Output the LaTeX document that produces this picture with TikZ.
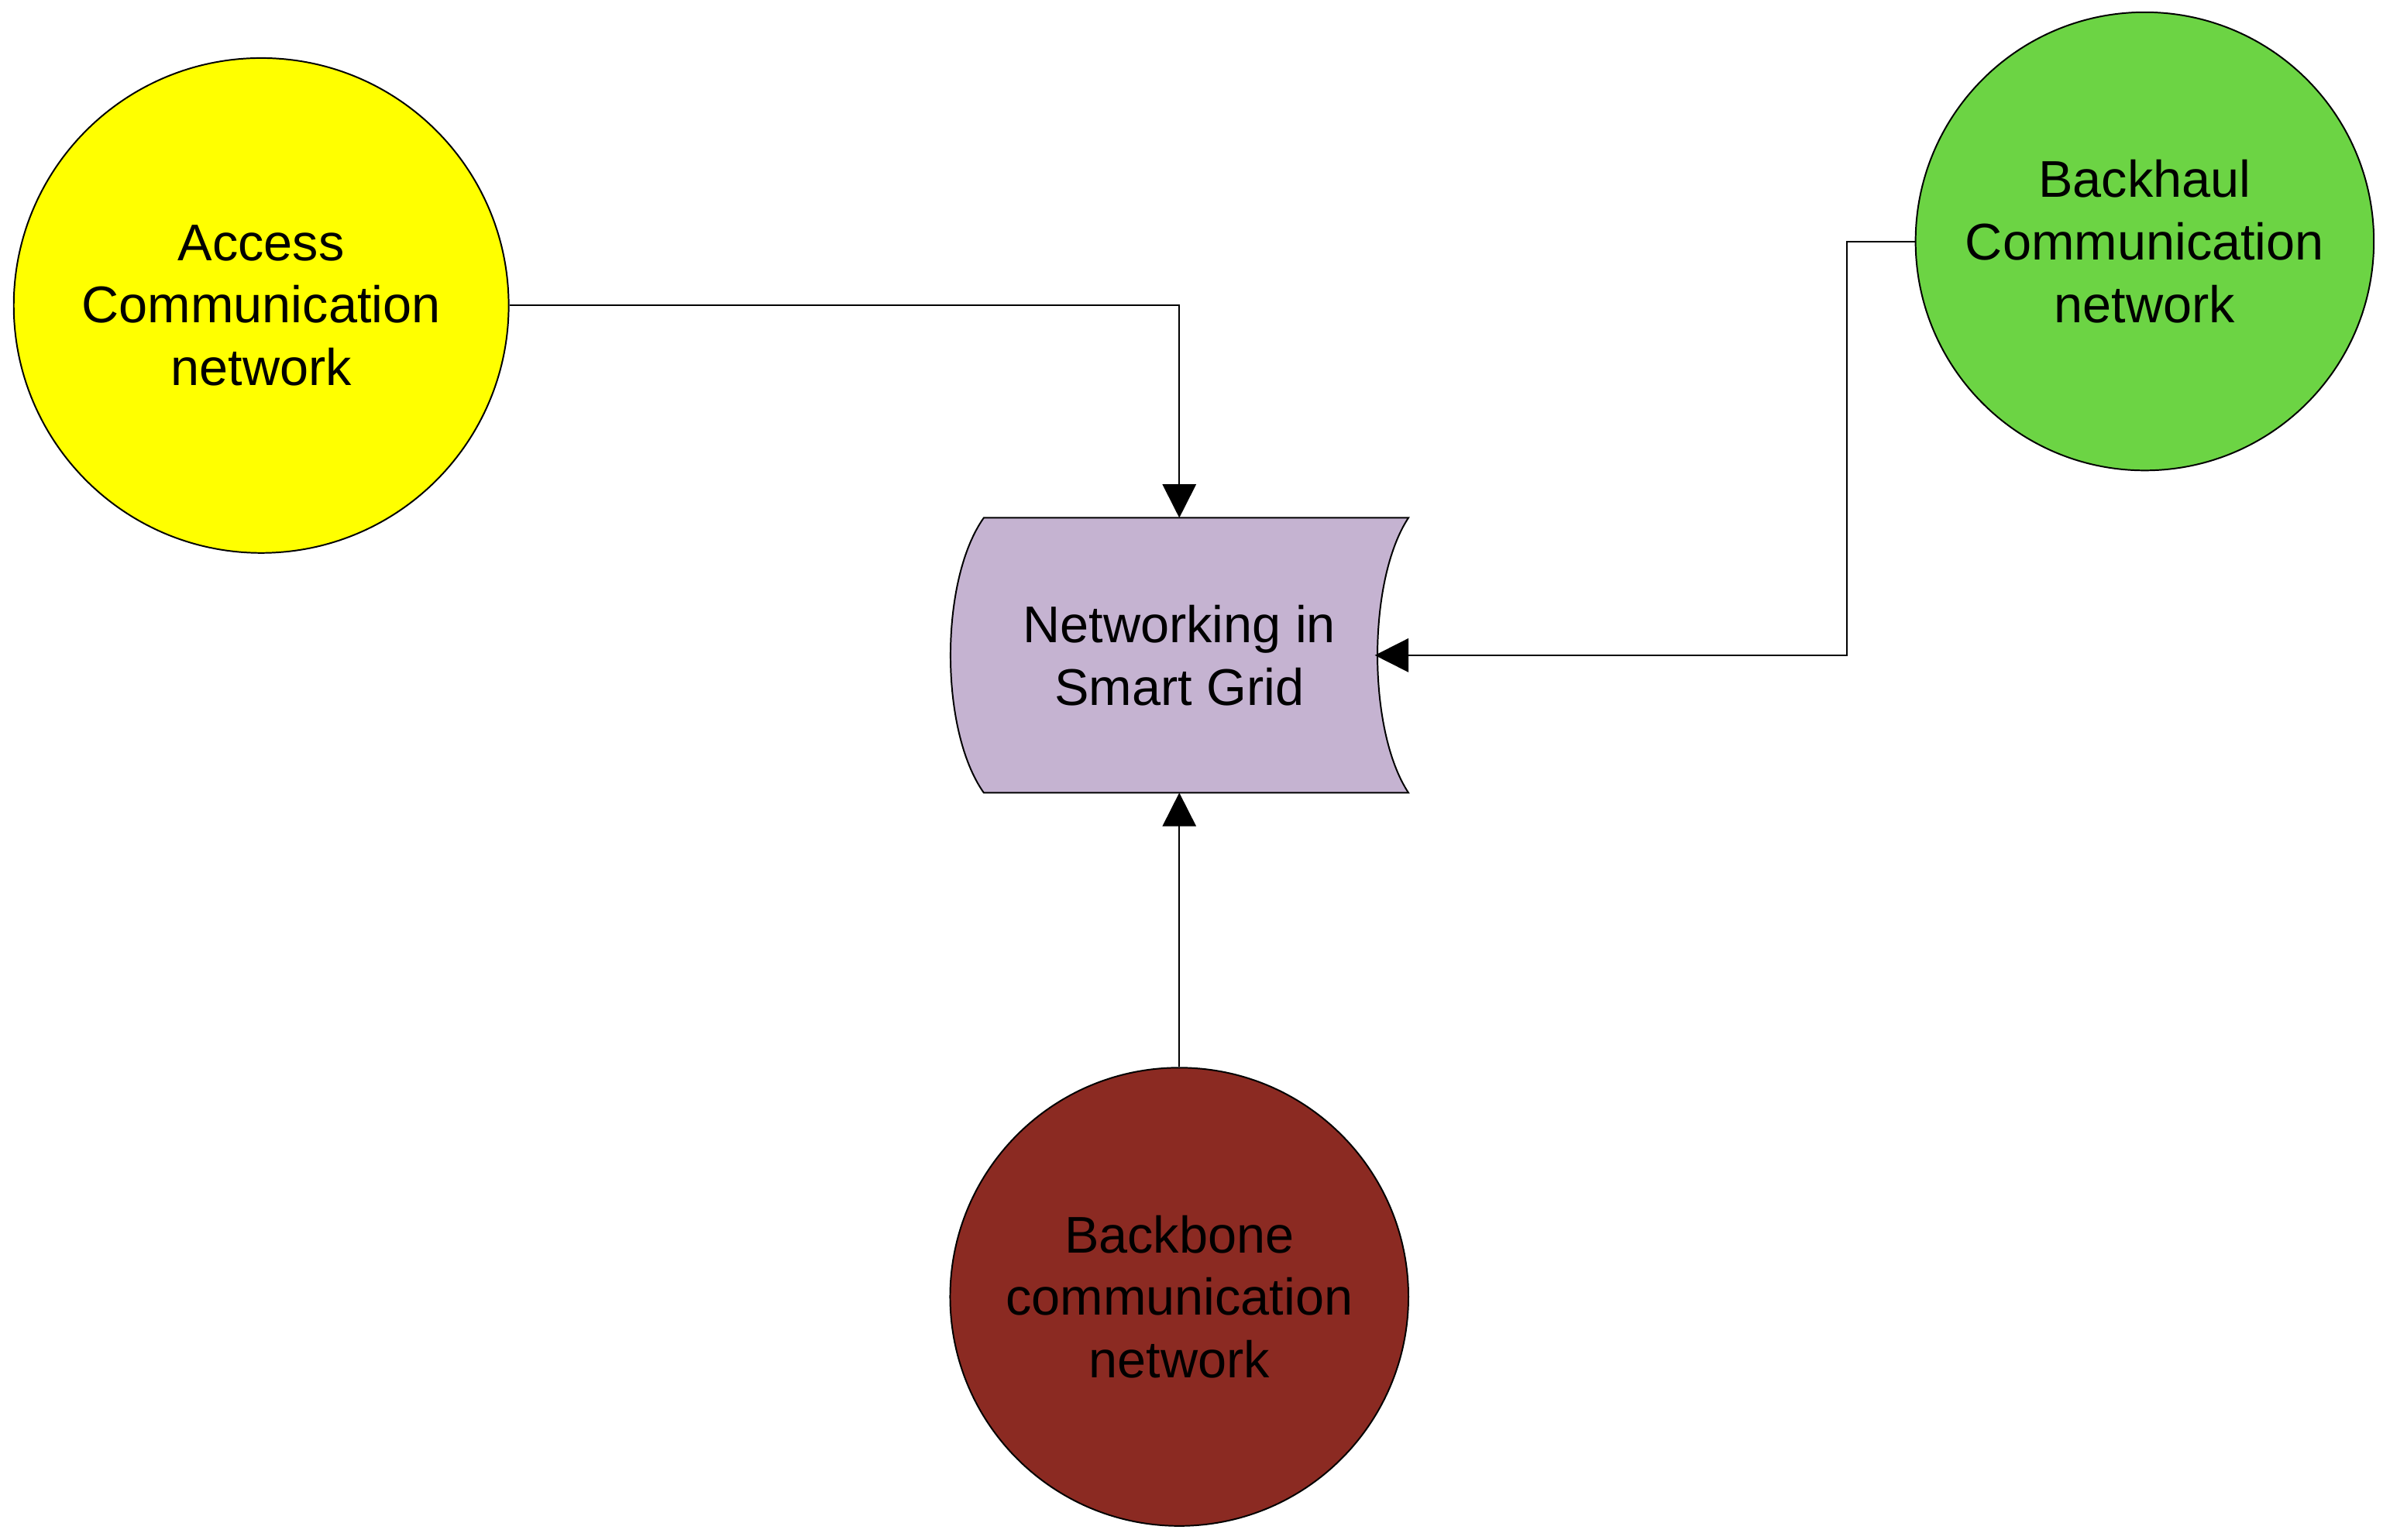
\documentclass[tikz,border=0pt]{standalone}
\usepackage{fontspec}
\setmainfont{Liberation Sans}
\usetikzlibrary{arrows.meta}
\begin{document}
\begin{tikzpicture}[x=1pt,y=-1pt,
  circ/.style={circle,draw=black,line width=1pt,align=center,inner sep=0pt},
  lbl/.style={align=center,font=\fontsize{33.8}{41}\selectfont},
  conn/.style={draw=black,line width=1pt,-{Triangle[length=22pt,width=22pt]}}]
\useasboundingbox (0,0) rectangle (1560,1008);
\definecolor{yel}{HTML}{FFFF00}
\definecolor{grn}{HTML}{6CD444}
\definecolor{brn}{HTML}{8B2A22}
\definecolor{lav}{HTML}{C5B3D1}
\node[circ,fill=yel,minimum size=324pt,lbl] (acc) at (171,200) {Access\\Communication\\network};
\node[circ,fill=grn,minimum size=300pt,lbl] (bh) at (1404,158) {Backhaul\\Communication\\network};
\node[circ,fill=brn,minimum size=300pt,lbl] (bb) at (772,849) {Backbone\\communication\\network};
\draw[fill=lav,line width=1pt] (644,339) -- (922,339) .. controls (895,380) and (895,478) .. (922,519) -- (644,519) .. controls (615,478) and (615,380) .. (644,339) -- cycle;
\node[lbl] (ng) at (772,429) {Networking in\\Smart Grid};
\coordinate (ngt) at (772,339);
\coordinate (ngr) at (900,429);
\coordinate (ngb) at (772,519);
\draw[conn] (acc.east) -| (ngt);
\draw[conn] (bh.west) -- (1209,158) |- (ngr);
\draw[conn] (bb.north) -- (ngb);
\end{tikzpicture}
\end{document}
